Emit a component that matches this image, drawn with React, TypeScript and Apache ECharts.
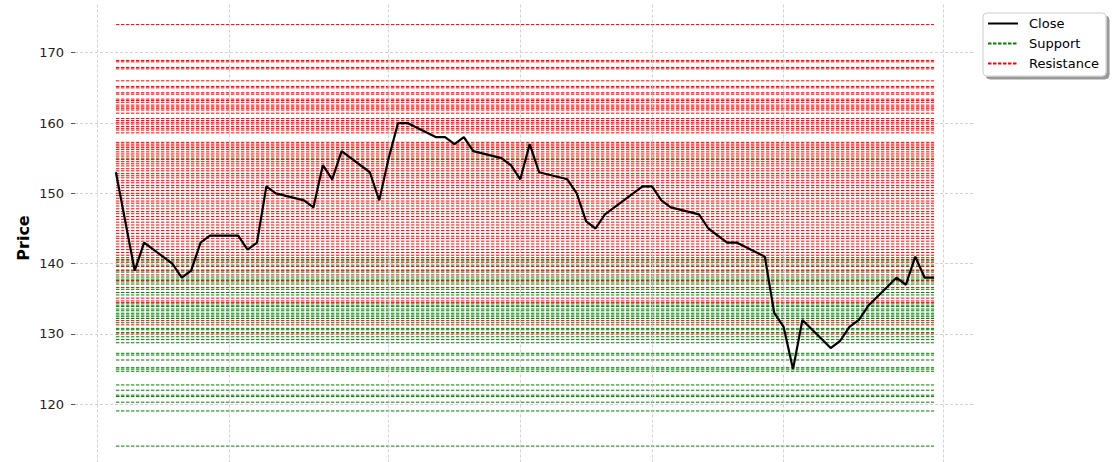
import React, { useEffect, useRef } from "react";
import * as echarts from "echarts";

const dates = [
  "2023-01-03","2023-01-04","2023-01-05","2023-01-06","2023-01-09","2023-01-10","2023-01-11","2023-01-12","2023-01-13",
  "2023-01-16","2023-01-17","2023-01-18","2023-01-19","2023-01-20","2023-01-23","2023-01-24","2023-01-25","2023-01-26",
  "2023-01-27","2023-01-30","2023-01-31","2023-02-01","2023-02-02","2023-02-03","2023-02-06","2023-02-07","2023-02-08",
  "2023-02-09","2023-02-10","2023-02-13","2023-02-14","2023-02-15","2023-02-16","2023-02-17","2023-02-20","2023-02-21",
  "2023-02-22","2023-02-23","2023-02-24","2023-02-27","2023-02-28","2023-03-01","2023-03-02","2023-03-03","2023-03-06",
  "2023-03-07","2023-03-08","2023-03-09","2023-03-10","2023-03-13","2023-03-14","2023-03-15","2023-03-16","2023-03-17",
  "2023-03-20","2023-03-21","2023-03-22","2023-03-23","2023-03-24","2023-03-27","2023-03-28","2023-03-29","2023-03-30",
  "2023-03-31"
];

const close = [
  153,146,139,143,140,138,139,143,144,144,142,143,151,150,149,148,154,152,156,153,149,
  155,160,160,158,158,157,158,156,155,154,152,157,153,152,150,146,145,147,150,151,
  151,149,148,147,145,144,143,143,141,133,131,125,132,128,129,131,132,134,138,137,141,138,138
];

const resistanceLevels = [
  174.0, 168.9, 168.7, 167.9, 167.7, 166.0, 165.2, 165.0, 164.3, 164.1, 163.4, 163.2, 162.95,
  162.55, 162.3, 162.1, 161.85, 161.4, 160.65, 160.35, 160.1, 159.85, 159.5, 159.25, 159.0, 158.6,
  157.25, 157.0, 156.75, 156.5, 156.25, 155.9, 155.6, 155.3, 154.8, 154.5, 154.2, 153.9, 153.5,
  153.2, 152.8, 152.5, 152.2, 151.8, 151.5, 151.1, 150.8, 150.4, 150.0, 149.7, 149.3, 148.9, 148.6,
  148.2, 147.8, 147.4, 147.1, 146.7, 146.3, 145.9, 145.5, 145.1, 144.7, 144.3, 143.9, 143.6, 143.2,
  142.8, 142.4, 142.0, 141.6, 141.2, 140.6, 140.2, 139.6, 139.0, 138.4, 137.6, 136.6, 135.1,
  134.7, 134.45, 131.9, 131.3, 130.0
];

const supportLevels = [
  155.0, 140.85, 140.4, 139.8, 139.1, 138.8, 138.1, 137.8, 137.4, 137.1, 136.35, 135.9, 135.55,
  134.4, 134.1, 133.9, 133.55, 133.3, 132.95, 132.7, 132.45, 132.2, 131.6, 130.8, 130.6, 130.2,
  129.6, 129.2, 128.75, 127.25, 127.0, 126.3, 125.2, 125.0, 124.7, 122.75, 122.0, 121.3, 121.1,
  120.3, 119.05, 114.05
];

const gridDates = ["2023-01-01","2023-01-15","2023-02-01","2023-02-15","2023-03-01","2023-03-15","2023-04-01"];

const FONT = "DejaVu Sans";

export default function App() {
  const ref = useRef<HTMLDivElement>(null);
  useEffect(() => {
    document.body.style.margin = "0";
    const chart = echarts.init(ref.current as HTMLDivElement, null, { renderer: "svg" });
    const DAY = 86400000;
    const t0 = Date.parse("2023-01-01");
    const ts = dates.map((d) => Date.parse(d));
    const xStart = ts[0];
    const xEnd = ts[ts.length - 1];
    const levelData = (levels: number[]) => {
      const out: any[] = [];
      levels.forEach((v) => {
        out.push([xStart, v], [xEnd, v], [xEnd, "-"]);
      });
      return out;
    };
    const gridStyle = { color: "#c8c8c8", width: 0.8, type: [3, 2] as any };
    chart.setOption({
      animation: false,
      grid: { left: 75, width: 900, top: -17.6, height: 492.2, outerBoundsMode: "none", containLabel: false },
      xAxis: {
        type: "time",
        min: t0 - 2.35 * DAY,
        max: t0 + 93.35 * DAY,
        axisLine: { show: false },
        axisTick: { show: false },
        axisLabel: { show: false },
        splitLine: { show: false },
      },
      yAxis: {
        type: "value",
        min: 110,
        max: 180,
        interval: 10,
        axisLine: { show: false },
        axisTick: { show: true, length: 4, lineStyle: { color: "#555", width: 1 } },
        axisLabel: {
          fontFamily: FONT,
          fontSize: 13,
          color: "#222",
          margin: 11,
          showMinLabel: false,
          showMaxLabel: false,
          formatter: (v: number) => (v <= 110 || v >= 180 ? "" : String(v)),
        },
        splitLine: { show: true, lineStyle: gridStyle },
      },
      legend: {
        orient: "vertical",
        left: 983,
        top: 13,
        data: ["Close", "Support", "Resistance"],
        itemWidth: 30,
        itemHeight: 14,
        itemGap: 7,
        padding: [4, 7, 6, 4],
        backgroundColor: "#fff",
        borderColor: "#cccccc",
        borderWidth: 1,
        borderRadius: 4,
        shadowColor: "rgba(0,0,0,0.4)",
        shadowOffsetX: 3,
        shadowOffsetY: 3,
        shadowBlur: 1,
        itemStyle: { opacity: 0 },
        textStyle: { fontFamily: FONT, fontSize: 13, color: "#000", padding: [0, 0, 0, 6] },
      },
      graphic: [
        {
          type: "text",
          x: 23.5,
          y: 238,
          rotation: Math.PI / 2,
          style: {
            text: "Price",
            fontFamily: FONT,
            fontSize: 16,
            fontWeight: "bold",
            fill: "#000",
            align: "center",
            verticalAlign: "middle",
          },
        },
      ],
      series: [
        {
          name: "gridlines",
          type: "line",
          data: [],
          silent: true,
          z: 0,
          markLine: {
            silent: true,
            symbol: ["none", "none"],
            label: { show: false },
            lineStyle: gridStyle,
            data: gridDates.map((d) => [
              { coord: [Date.parse(d), 111] },
              { coord: [Date.parse(d), 177] },
            ]),
          },
        },
        {
          name: "Support",
          type: "line",
          symbol: "none",
          connectNulls: false,
          z: 1,
          lineStyle: { color: "#008000", width: 1, type: [3.5, 1.5] },
          itemStyle: { color: "#008000" },
          data: levelData(supportLevels),
        },
        {
          name: "Resistance",
          type: "line",
          symbol: "none",
          connectNulls: false,
          z: 2,
          lineStyle: { color: "#ff0000", width: 1, type: [3.5, 1.5] },
          itemStyle: { color: "#ff0000" },
          data: levelData(resistanceLevels),
        },
        {
          name: "Close",
          type: "line",
          symbol: "none",
          z: 5,
          lineStyle: { color: "#000", width: 2.2 },
          itemStyle: { color: "#000" },
          data: ts.map((t, i) => [t, close[i]]),
        },
      ],
    });
    return () => chart.dispose();
  }, []);
  return <div ref={ref} style={{ width: 1117, height: 462 }} />;
}
